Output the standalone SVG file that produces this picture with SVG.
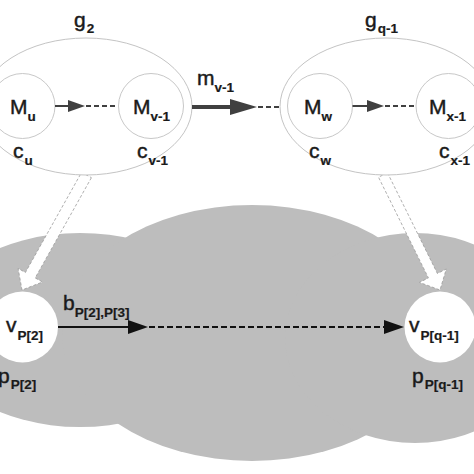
<svg xmlns="http://www.w3.org/2000/svg" width="474" height="474" viewBox="0 0 474 474">
<style>
text{font-family:"Liberation Sans",Arial,sans-serif;font-size:21px;fill:#1a1a1a;stroke:#1a1a1a;stroke-width:0.45}
.s{font-size:13.5px;font-weight:bold;stroke-width:0.2}
.grp{fill:#fff;stroke:#c4c4c4;stroke-width:1}
.mod{fill:#fff;stroke:#c8c8c8;stroke-width:1}
.cloud{fill:#bdbdbd}
.hollow{fill:#fff;stroke:#9a9a9a;stroke-width:0.8;stroke-dasharray:3 2}
.ln{stroke:#404040;stroke-width:2;fill:none}
.dash{stroke:#404040;stroke-width:2;stroke-dasharray:5 3;fill:none}
.hd{fill:#404040}
.bln{stroke:#111;stroke-width:2;fill:none}
.bdash{stroke:#111;stroke-width:2;stroke-dasharray:6 3;fill:none}
.bhd{fill:#111}
.node{fill:#fff}
</style>
<g id="cloud" class="cloud">
<ellipse cx="80" cy="330" rx="150" ry="97"/>
<ellipse cx="252" cy="333" rx="190" ry="128"/>
<ellipse cx="415" cy="338" rx="130" ry="105"/>
</g>
<g id="mapping-arrows">
<polygon class="hollow" points="91.4,177.7 35.2,277.9 42.5,282.0 22,290 18.1,268.4 25.4,272.5 81.6,172.3"/>
<polygon class="hollow" points="387.5,172.8 437.4,273.5 446.3,269.0 440,290 419.5,282.4 428.4,277.9 378.5,177.2"/>
</g>
<g id="g2">
<ellipse class="grp" cx="86" cy="106.5" rx="106" ry="68.5"/>
<text x="74" y="27">g<tspan class="s" dx="1" dy="6">2</tspan></text>
</g>
<g id="gq-1">
<ellipse class="grp" cx="386" cy="106.5" rx="106" ry="68.5"/>
<text x="365" y="27">g<tspan class="s" dx="1" dy="6">q-1</tspan></text>
</g>
<g id="Mu">
<circle class="mod" cx="22.5" cy="106" r="32.5"/>
<text x="10" y="114">M<tspan class="s" dy="7">u</tspan></text>
<text x="13" y="158">c<tspan class="s" dx="1" dy="7">u</tspan></text>
</g>
<g id="Mv-1">
<circle class="mod" cx="151" cy="106" r="32.5"/>
<text x="133" y="114">M<tspan class="s" dy="7">v-1</tspan></text>
<text x="137" y="158">c<tspan class="s" dx="1" dy="7">v-1</tspan></text>
</g>
<g id="Mw">
<circle class="mod" cx="320" cy="106" r="32.5"/>
<text x="304" y="114">M<tspan class="s" dy="7">w</tspan></text>
<text x="309" y="158">c<tspan class="s" dx="1" dy="7">w</tspan></text>
</g>
<g id="Mx-1">
<circle class="mod" cx="448.5" cy="106" r="32.5"/>
<text x="429" y="114">M<tspan class="s" dy="7">x-1</tspan></text>
<text x="439" y="158">c<tspan class="s" dx="1" dy="7">x-1</tspan></text>
</g>
<g id="vP2">
<circle class="node" cx="22.5" cy="327" r="35.5"/>
<text x="6" y="332">v<tspan class="s" dx="1" dy="8">P[2]</tspan></text>
<text x="-2" y="383">p<tspan class="s" dx="1" dy="6">P[2]</tspan></text>
</g>
<g id="vPq-1">
<circle class="node" cx="440" cy="327" r="35.5"/>
<text x="409" y="332">v<tspan class="s" dx="1" dy="8">P[q-1]</tspan></text>
<text x="412" y="383">p<tspan class="s" dx="1" dy="6">P[q-1]</tspan></text>
</g>
<g id="connectors">
<line class="ln" x1="55" y1="106" x2="69" y2="106"/>
<polygon class="hd" points="68,100 85,106 68,112"/>
<line class="dash" x1="86" y1="106" x2="118" y2="106"/>
<line stroke="#404040" stroke-width="4" x1="192" y1="107" x2="231" y2="107"/>
<polygon class="hd" points="230,99 257,107 230,115"/>
<line class="dash" x1="258" y1="107" x2="282" y2="107"/>
<text x="197" y="85">m<tspan class="s" dy="7">v-1</tspan></text>
<line class="ln" x1="352.5" y1="106" x2="368" y2="106"/>
<polygon class="hd" points="367,100 384,106 367,112"/>
<line class="dash" x1="385" y1="106" x2="416" y2="106"/>
<line class="bln" x1="58" y1="327" x2="129" y2="327"/>
<polygon class="bhd" points="128,320 148,327 128,334"/>
<line class="bdash" x1="149" y1="327" x2="385" y2="327"/>
<polygon class="bhd" points="384,320 404,327 384,334"/>
<text x="63" y="310">b<tspan class="s" dy="7">P[2],P[3]</tspan></text>
</g>
</svg>
